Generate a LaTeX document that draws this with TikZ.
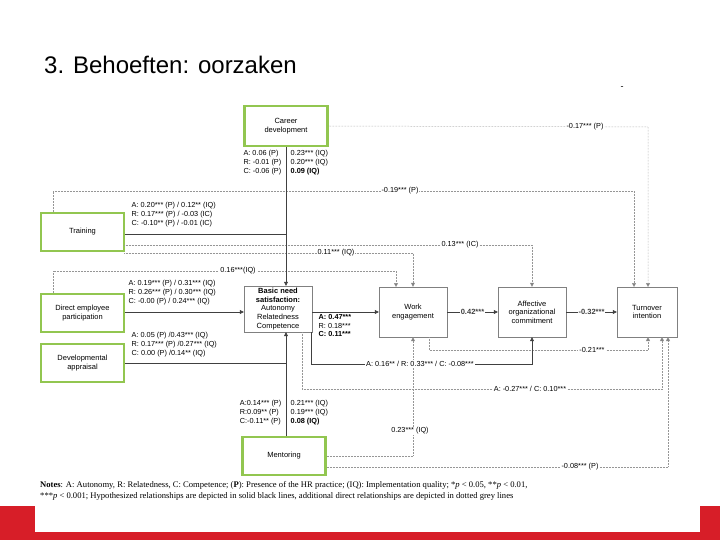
\documentclass[tikz,border=0pt]{standalone}
\usepackage{fontspec}
\setmainfont{Liberation Sans}
\newfontfamily\notesfont{Liberation Serif}
\usetikzlibrary{arrows.meta}
\definecolor{hrgreen}{RGB}{146,198,80}
\definecolor{hrred}{RGB}{215,30,40}
\definecolor{dotgrey}{RGB}{150,150,150}
\tikzset{
 hrbox/.style={draw=hrgreen,line width=2.5pt,fill=white,minimum width=83pt,align=center,font=\fontsize{7.5}{9}\selectfont,inner sep=0pt},
 varbox/.style={draw=gray,fill=white,align=center,font=\fontsize{7.5}{8.6}\selectfont,minimum height=50pt,inner sep=0pt},
 lab/.style={font=\fontsize{7.3}{8.6}\selectfont,inner sep=0.5pt,align=left},
 dotl/.style={dotgrey,densely dotted,line width=0.5pt},
 solidl/.style={black!75,line width=0.6pt},
 arr/.style={-{Triangle[length=4pt,width=4pt]}},
 garr/.style={-{Triangle[length=4pt,width=4pt,fill=dotgrey!80!black]}},
 onl/.style={fill=white,font=\fontsize{7.3}{8.6}\selectfont,inner sep=1pt}
}
\begin{document}
\begin{tikzpicture}[x=1pt,y=-1pt]
\useasboundingbox (0,0) rectangle (720,540);
\fill[white] (0,0) rectangle (720,540);
% footer
\fill[hrred] (0,506) rectangle (720,540);
\fill[white] (35,504) rectangle (700,532);
\node[anchor=west,font=\fontsize{24}{28}\selectfont,inner sep=0] (title) at (44,65) {3. Behoeften: oorzaken};
\node[font=\small,inner sep=0] (dash) at (622,88) {-};
% boxes
\node[hrbox, minimum height=40pt] (career) at (286,126) {Career\\development};
\node[hrbox, minimum height=38pt] (train) at (82.5,232) {Training};
\node[hrbox, minimum height=38pt] (dep) at (82.5,313) {Direct employee\\participation};
\node[hrbox, minimum height=38pt] (appr) at (82.5,363) {Developmental\\appraisal};
\node[hrbox, minimum height=38pt] (ment) at (284,456) {Mentoring};
\node[varbox,minimum width=68pt,minimum height=46pt] (bns) at (278,309) {\textbf{Basic need}\\\textbf{satisfaction:}\\Autonomy\\Relatedness\\Competence};
\node[varbox,minimum width=68pt] (we) at (413,312) {Work\\engagement};
\node[varbox,minimum width=68pt] (aoc) at (532,312) {Affective\\organizational\\commitment};
\node[varbox,minimum width=60pt] (ti) at (647,312) {Turnover\\intention};
% dotted grey lines
\coordinate (c1) at (648,127);
\draw[dotl,garr] (career.east) -- (c1) -- (648,287);
\node[onl] (l1) at (585,127) {-0.17*** (P)};
\coordinate (c2) at (53,191);
\draw[dotl,garr] (train.north -| c2) -- (c2) -- (634,191) -- (634,287);
\node[onl] (l2) at (400,191) {-0.19*** (P)};
\draw[dotl,garr] (124,245) -- (532,245) -- (aoc.north);
\node[onl] (l3) at (460,245) {0.13*** (IC)};
\draw[dotl,garr] (124,253) -- (413,253) -- (we.north);
\node[onl] (l4) at (336,253) {0.11*** (IQ)};
\coordinate (c5) at (53,271);
\draw[dotl,garr] (dep.north -| c5) -- (c5) -- (396,271) -- (396,287);
\node[onl] (l5) at (238,271) {0.16***(IQ)};
\draw[dotl,garr] (429,337) -- (429,350) -- (648,350) -- (648,337);
\node[onl] (l6) at (592,350) {-0.21***};
\draw[dotl,garr] (302,332) -- (302,389) -- (662,389) -- (662,337);
\node[onl] (l7) at (530,389) {A: -0.27*** / C: 0.10***};
\draw[dotl,garr] (ment.east |- 0,456) -- (413,456) -- (we.south);
\node[onl] (l8) at (410,431) {0.23*** (IQ)};
\draw[dotl,garr] (ment.east |- 0,467) -- (668,467) -- (668,337);
\node[onl] (l9) at (580,467) {-0.08*** (P)};
% solid lines
\draw[solidl,arr] (career.south -| 286,0) -- (bns.north -| 286,0);
\draw[solidl] (train.east |- 0,234) -- (286,234);
\draw[solidl,arr] (dep.east |- 0,312) -- (bns.west |- 0,312);
\draw[solidl] (appr.east |- 0,363) -- (286,363);
\draw[solidl,arr] (ment.north -| 286,0) -- (bns.south -| 286,0);
\draw[solidl,arr] (bns.east |- 0,312) -- (we.west |- 0,312);
\draw[solidl,arr] (we.east) -- (aoc.west) node[midway,fill=white,font=\fontsize{7.5}{8}\selectfont\bfseries,inner sep=1pt] (l10) {0.42***};
\draw[solidl,arr] (aoc.east) -- (ti.west) node[midway,fill=white,font=\fontsize{7.5}{8}\selectfont\bfseries,inner sep=1pt] (l11) {-0.32***};
\draw[solidl,arr] (311,332) -- (311,364) -- (532,364) -- (aoc.south);
\node[onl] (l12) at (420,364) {A: 0.16** / R: 0.33*** / C: -0.08***};
% coefficient labels
\node[lab,anchor=north east] (cl) at (282,150) {A: 0.06 (P)\\R: -0.01 (P)\\C: -0.06 (P)};
\node[lab,anchor=north west] (cr) at (290,150) {0.23*** (IQ)\\0.20*** (IQ)\\\textbf{0.09 (IQ)}};
\node[lab,anchor=north west] (tl) at (131,202) {A: 0.20*** (P) / 0.12** (IQ)\\R: 0.17*** (P) / -0.03 (IC)\\C: -0.10** (P) / -0.01 (IC)};
\node[lab,anchor=north west] (dl) at (128,280) {A: 0.19*** (P) / 0.31*** (IQ)\\R: 0.26*** (P) / 0.30*** (IQ)\\C: -0.00 (P) / 0.24*** (IQ)};
\node[lab,anchor=north west] (al) at (131,332) {A: 0.05 (P) /0.43*** (IQ)\\R: 0.17*** (P) /0.27*** (IQ)\\C: 0.00 (P) /0.14** (IQ)};
\node[lab,anchor=north east] (ml) at (282,400) {A:0.14*** (P)\\R:0.09** (P)\\C:-0.11** (P)};
\node[lab,anchor=north west] (mr) at (290,400) {0.21*** (IQ)\\0.19*** (IQ)\\\textbf{0.08 (IQ)}};
\node[lab,anchor=north west] (wl) at (318,314) {\textbf{A: 0.47***}\\R: 0.18***\\\textbf{C: 0.11***}};
% notes
\node[anchor=north west,align=left,inner sep=0,font=\notesfont\fontsize{8.6}{11}\selectfont] (notes) at (40,481) {\textbf{Notes}: A: Autonomy, R: Relatedness, C: Competence; (\textbf{P}): Presence of the HR practice; (IQ): Implementation quality; *\textit{p} < 0.05, **\textit{p} < 0.01,\\***\textit{p} < 0.001; Hypothesized relationships are depicted in solid black lines, additional direct relationships are depicted in dotted grey lines};
\end{tikzpicture}
\end{document}
